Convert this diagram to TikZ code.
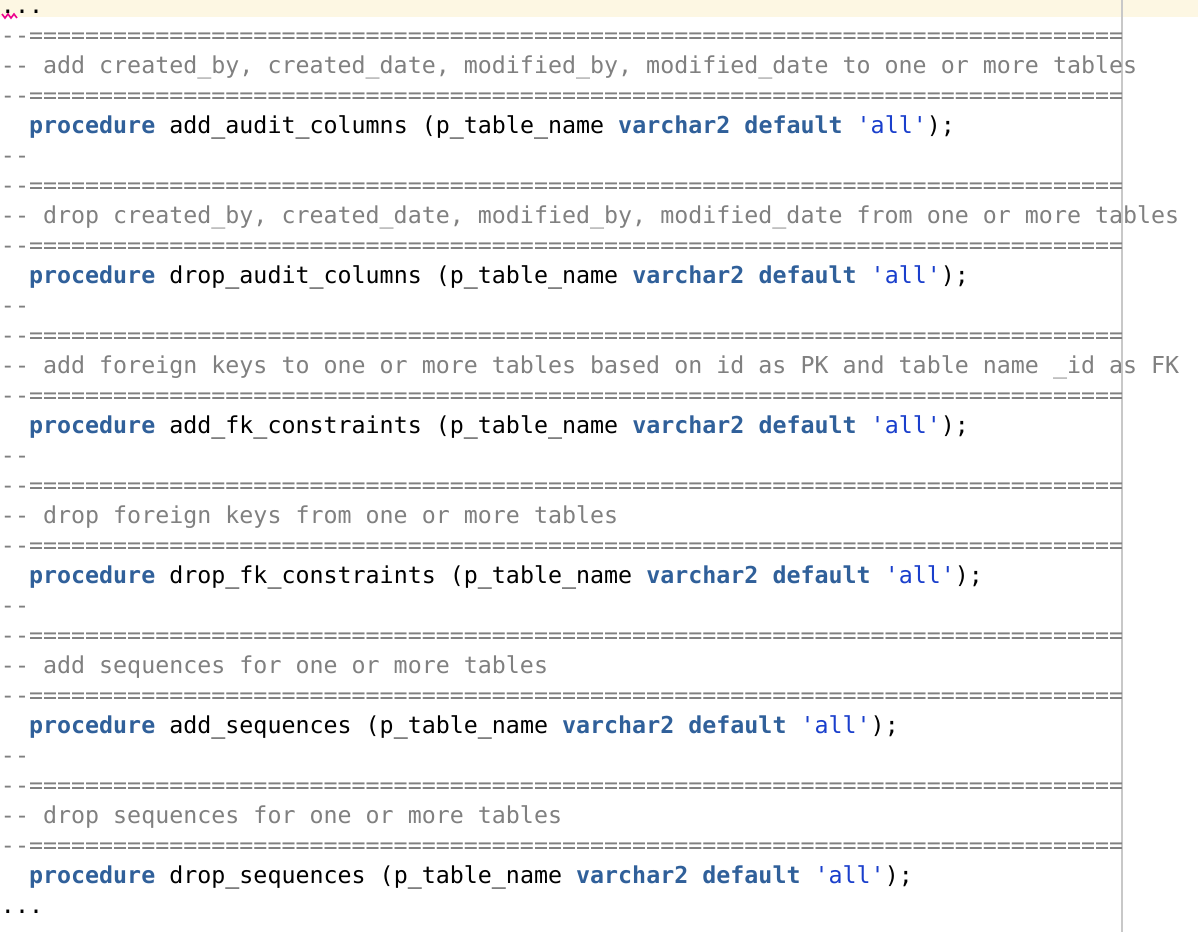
\documentclass[tikz,border=0pt]{standalone}
\usepackage{fontspec}
\setmonofont{DejaVu Sans Mono}
\usepackage{tikz}
\usetikzlibrary{positioning}

\definecolor{kwblue}{HTML}{30609A}
\definecolor{strblue}{HTML}{1A3FCC}
\definecolor{cmtgray}{HTML}{808080}
\definecolor{curline}{HTML}{FDF7E3}
\definecolor{margingray}{HTML}{C8C8C8}

\newcommand{\sqlkw}[1]{\textcolor{kwblue}{\bfseries #1}}
\newcommand{\sqlstr}[1]{\textcolor{strblue}{#1}}
\newcommand{\sepline}{-{}-==============================================================================}

\tikzset{
  codeline/.style={anchor=base west, inner sep=0pt, outer sep=0pt,
    font=\ttfamily\fontsize{23.3}{30}\selectfont},
  comment/.style={codeline, text=cmtgray}
}

\begin{document}
\begin{tikzpicture}[x=1pt, y=-1pt]
      \useasboundingbox (0,0) rectangle (1198,932);
      \fill[curline] (0,0) rectangle (1198,17);
      \draw[margingray, line width=2pt] (1122,0) -- (1122,932);

      \node[codeline] (top) at (1,13) {...};
      \draw[magenta, line width=1.6pt] (2,14) -- (5,18) -- (8,14) -- (11,18)
           -- (14,14) -- (17,18);

      % separator lines
      \foreach \k in {1,3,6,8,11,13,16,18,21,23,26,28}
        \node[comment] (sep\k) at (1,13+30*\k) {\sepline};
      \foreach \k in {5,10,15,20,25}
        \node[comment] (dash\k) at (1,13+30*\k) {-{}-};

      \node[comment] (c2) at (1,73)
           {-{}- add created\_by, created\_date, modified\_by, modified\_date to one or more tables};
      \node[codeline] (p4) at (1,133)
           {\ \ \sqlkw{procedure} add\_audit\_columns (p\_table\_name \sqlkw{varchar2} \sqlkw{default} \sqlstr{'all'});};

      \node[comment] (c7) at (1,223)
           {-{}- drop created\_by, created\_date, modified\_by, modified\_date from one or more tables};
      \node[codeline] (p9) at (1,283)
           {\ \ \sqlkw{procedure} drop\_audit\_columns (p\_table\_name \sqlkw{varchar2} \sqlkw{default} \sqlstr{'all'});};

      \node[comment] (c12) at (1,373)
           {-{}- add foreign keys to one or more tables based on id as PK and table name \_id as FK};
      \node[codeline] (p14) at (1,433)
           {\ \ \sqlkw{procedure} add\_fk\_constraints (p\_table\_name \sqlkw{varchar2} \sqlkw{default} \sqlstr{'all'});};

      \node[comment] (c17) at (1,523)
           {-{}- drop foreign keys from one or more tables};
      \node[codeline] (p19) at (1,583)
           {\ \ \sqlkw{procedure} drop\_fk\_constraints (p\_table\_name \sqlkw{varchar2} \sqlkw{default} \sqlstr{'all'});};

      \node[comment] (c22) at (1,673)
           {-{}- add sequences for one or more tables};
      \node[codeline] (p24) at (1,733)
           {\ \ \sqlkw{procedure} add\_sequences (p\_table\_name \sqlkw{varchar2} \sqlkw{default} \sqlstr{'all'});};

      \node[comment] (c27) at (1,823)
           {-{}- drop sequences for one or more tables};
      \node[codeline] (p29) at (1,883)
           {\ \ \sqlkw{procedure} drop\_sequences (p\_table\_name \sqlkw{varchar2} \sqlkw{default} \sqlstr{'all'});};

      \node[codeline] (bottom) at (1,913) {...};
\end{tikzpicture}
\end{document}
